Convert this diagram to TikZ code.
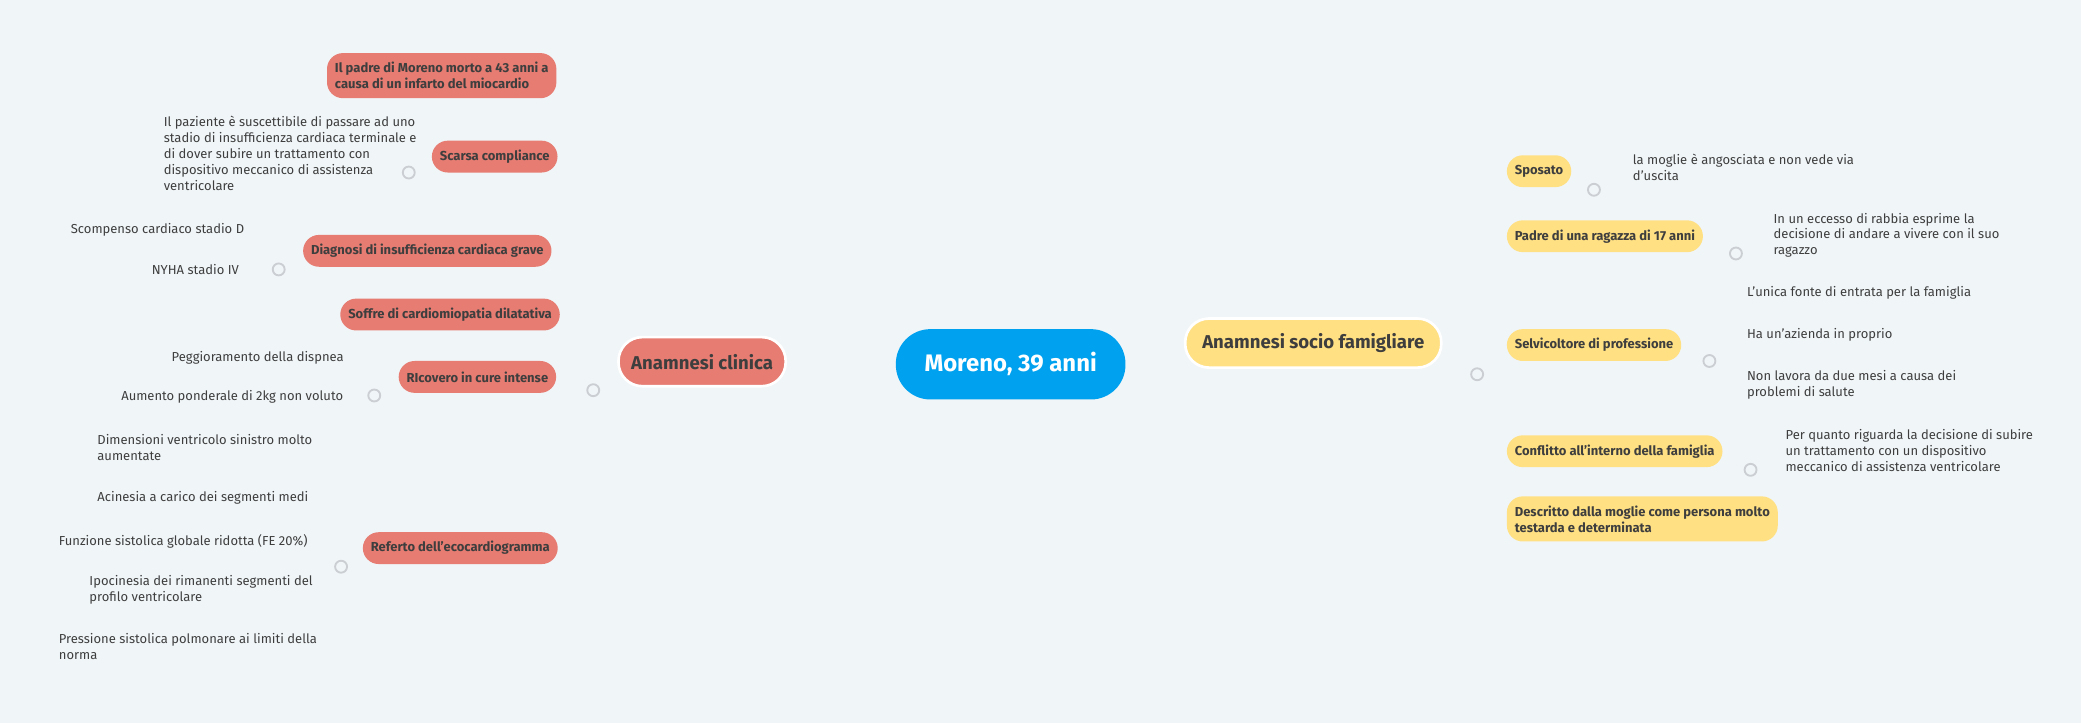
\documentclass[tikz,border=0pt]{standalone}
\usepackage{fontspec}
\setmainfont{Fira Sans}
\usetikzlibrary{arrows.meta,backgrounds}
\definecolor{bgc}{HTML}{F0F5F8}
\definecolor{salm}{HTML}{E67C72}
\definecolor{yel}{HTML}{FFE083}
\definecolor{blu}{HTML}{00A2F0}
\definecolor{lnc}{HTML}{CBCFD3}
\definecolor{grn}{HTML}{7DC242}
\definecolor{txc}{HTML}{3E3E3E}
\tikzset{
  x=0.5pt,y=-0.5pt,
  pill/.style={rounded corners=6pt,minimum height=12pt,inner xsep=3pt,inner ysep=1pt,anchor=west,text=txc,font=\fontsize{4.9}{6}\selectfont\bfseries,align=left},
  redp/.style={pill,fill=salm},
  yelp/.style={pill,fill=yel},
  body/.style={anchor=north west,inner sep=0pt,text=txc,font=\fontsize{4.9}{6}\selectfont,align=left},
  lk/.style={draw=lnc,line width=0.8pt},
  hub/.style={circle,draw=lnc,line width=0.7pt,fill=bgc,inner sep=0pt,minimum size=4.5pt},
  gr/.style={draw=grn,line width=0.7pt,-{Stealth[length=4.5pt,width=4pt]}},
}
\begin{document}
\begin{tikzpicture}
\fill[bgc] (0,0) rectangle (1568,545);
\useasboundingbox (0,0) rectangle (1568,545);
% central
\node[rounded corners=13pt,fill=blu,text=white,font=\fontsize{9}{11}\selectfont\bfseries,minimum width=86.5pt,minimum height=26.5pt] (cen) at (761.5,274.5) {Moreno, 39 anni};
\node[rounded corners=9pt,fill=salm,draw=white,line width=1pt,text=txc,font=\fontsize{7}{8}\selectfont\bfseries,minimum width=63pt,minimum height=18.5pt] (anc) at (529,272.5) {Anamnesi clinica};
\node[rounded corners=9pt,fill=yel,draw=white,line width=1pt,text=txc,font=\fontsize{7}{8}\selectfont\bfseries,minimum width=96.5pt,minimum height=18.5pt] (soc) at (989.5,258.5) {Anamnesi socio famigliare};
% left nodes
\node[redp,minimum height=17pt] (pad) at (246,57) {Il padre di Moreno morto a 43 anni a\\causa di un infarto del miocardio};
\node[redp] (sca) at (325,118) {Scarsa compliance};
\node[redp] (dia) at (228,189) {Diagnosi di insufficienza cardiaca grave};
\node[redp] (sof) at (256,237) {Soffre di cardiomiopatia dilatativa};
\node[redp] (ric) at (300,284) {RIcovero in cure intense};
\node[redp] (ref) at (273,413) {Referto dell'ecocardiogramma};
% hubs
\node[hub] (H1) at (447,294) {};
\node[hub] (S) at (308,130) {};
\node[hub] (D) at (210,203) {};
\node[hub] (R) at (282,298) {};
\node[hub] (F) at (257,427) {};
% left children
\node[body] (s1) at (123,87) {Il paziente è suscettibile di passare ad uno\\stadio di insufficienza cardiaca terminale e\\di dover subire un trattamento con\\dispositivo meccanico di assistenza\\ventricolare};
\node[body] (d1) at (53,168) {Scompenso cardiaco stadio D};
\node[body] (d2) at (114,199) {NYHA stadio IV};
\node[body] (r1) at (129,264) {Peggioramento della dispnea};
\node[body] (r2) at (91,294) {Aumento ponderale di 2kg non voluto};
\node[body] (f1) at (73,327) {Dimensioni ventricolo sinistro molto\\aumentate};
\node[body] (f2) at (73,370) {Acinesia a carico dei segmenti medi};
\node[body] (f3) at (44,402) {Funzione sistolica globale ridotta (FE 20\%)};
\node[body] (f4) at (67,433) {Ipocinesia dei rimanenti segmenti del\\profilo ventricolare};
\node[body] (f5) at (44,477) {Pressione sistolica polmonare ai limiti della\\norma};
% right nodes
\node[yelp] (sp) at (1135,129) {Sposato};
\node[yelp] (pr) at (1135,178) {Padre di una ragazza di 17 anni};
\node[yelp] (se) at (1135,260) {Selvicoltore di professione};
\node[yelp] (co) at (1135,340) {Conflitto all'interno della famiglia};
\node[yelp,minimum height=17pt] (de) at (1135,391) {Descritto dalla moglie come persona molto\\testarda e determinata};
\node[hub] (H2) at (1113,282) {};
\node[hub] (Sp) at (1201,143) {};
\node[hub] (P2) at (1308,191) {};
\node[hub] (Se) at (1288,272) {};
\node[hub] (C) at (1319,354) {};
\node[body] (sp1) at (1230,116) {la moglie è angosciata e non vede via\\d'uscita};
\node[body] (pr1) at (1336,160) {In un eccesso di rabbia esprime la\\decisione di andare a vivere con il suo\\ragazzo};
\node[body] (se1) at (1316,215) {L'unica fonte di entrata per la famiglia};
\node[body] (se2) at (1316,247) {Ha un'azienda in proprio};
\node[body] (se3) at (1316,279) {Non lavora da due mesi a causa dei\\problemi di salute};
\node[body] (co1) at (1345,323) {Per quanto riguarda la decisione di subire\\un trattamento con un dispositivo\\meccanico di assistenza ventricolare};
\begin{scope}[on background layer]
\fill[bgc] (0,0) rectangle (1568,545);
% left trunk
\draw[lk] (246,75) -- (428,75) to[out=0,in=92] (H1);
\draw[lk] (S) -- (428,131) to[out=0,in=93] (H1);
\draw[lk] (D) -- (428,202) to[out=0,in=95] (H1);
\draw[lk] (256,250) -- (428,250) to[out=0,in=100] (H1);
\draw[lk] (R) -- (428,297) to[out=0,in=190] (H1);
\draw[lk] (F) -- (428,427) to[out=0,in=-92] (H1);
\draw[lk] (H1) -- (466,294) -- (596,294) to[out=0,in=180] (675,290);
% children
\draw[lk] (S) to[out=240,in=0] (290,157) -- (90,157);
\draw[lk] (D) to[out=125,in=0] (190,187) -- (47,187);
\draw[lk] (D) to[out=235,in=0] (190,217) -- (113,217);
\draw[lk] (R) to[out=125,in=0] (255,283) -- (122,283);
\draw[lk] (R) to[out=235,in=0] (255,313) -- (85,313);
\draw[lk] (F) to[out=95,in=0] (240,372) -- (66,372);
\draw[lk] (F) to[out=100,in=0] (240,392) -- (66,392);
\draw[lk] (F) to[out=160,in=0] (240,422) -- (40,422);
\draw[lk] (F) to[out=-100,in=0] (240,465) -- (60,465);
\draw[lk] (F) to[out=-92,in=0] (240,508) -- (40,508);
% right trunk
\draw[lk] (848,280) to[out=0,in=180] (H2);
\draw[lk] (893,278) -- (1090,278) to[out=0,in=180] (H2);
\draw[lk] (H2) to[out=92,in=180] (1135,143) -- (Sp);
\draw[lk] (H2) to[out=94,in=180] (1135,191) -- (P2);
\draw[lk] (H2) to[out=100,in=180] (1135,272) -- (Se);
\draw[lk] (H2) to[out=-92,in=180] (1135,354) -- (C);
\draw[lk] (H2) to[out=-91,in=180] (1135,410) -- (1348,410);
\draw[lk] (Sp) to[out=-15,in=180] (1225,148) -- (1406,148);
\draw[lk] (P2) to[out=-40,in=180] (1336,204) -- (1508,204);
\draw[lk] (Se) to[out=75,in=180] (1316,233) -- (1490,233);
\draw[lk] (Se) to[out=15,in=180] (1316,264) -- (1420,264);
\draw[lk] (Se) to[out=-75,in=180] (1316,313) -- (1475,313);
\draw[lk] (C) to[out=-40,in=180] (1345,366) -- (1530,366);
% green arrows
\draw[gr] (425,56) .. controls (600,150) and (760,235) .. (soc.west);
\draw[gr] (425,117) .. controls (520,200) and (700,245) .. ([yshift=-1]soc.west);
\draw[gr] (287,117) .. controls (310,145) and (330,165) .. (dia);
\draw[gr] (405,203) .. controls (500,255) and (700,268) .. ([yshift=4]soc.west);
\end{scope}
\end{tikzpicture}
\end{document}
